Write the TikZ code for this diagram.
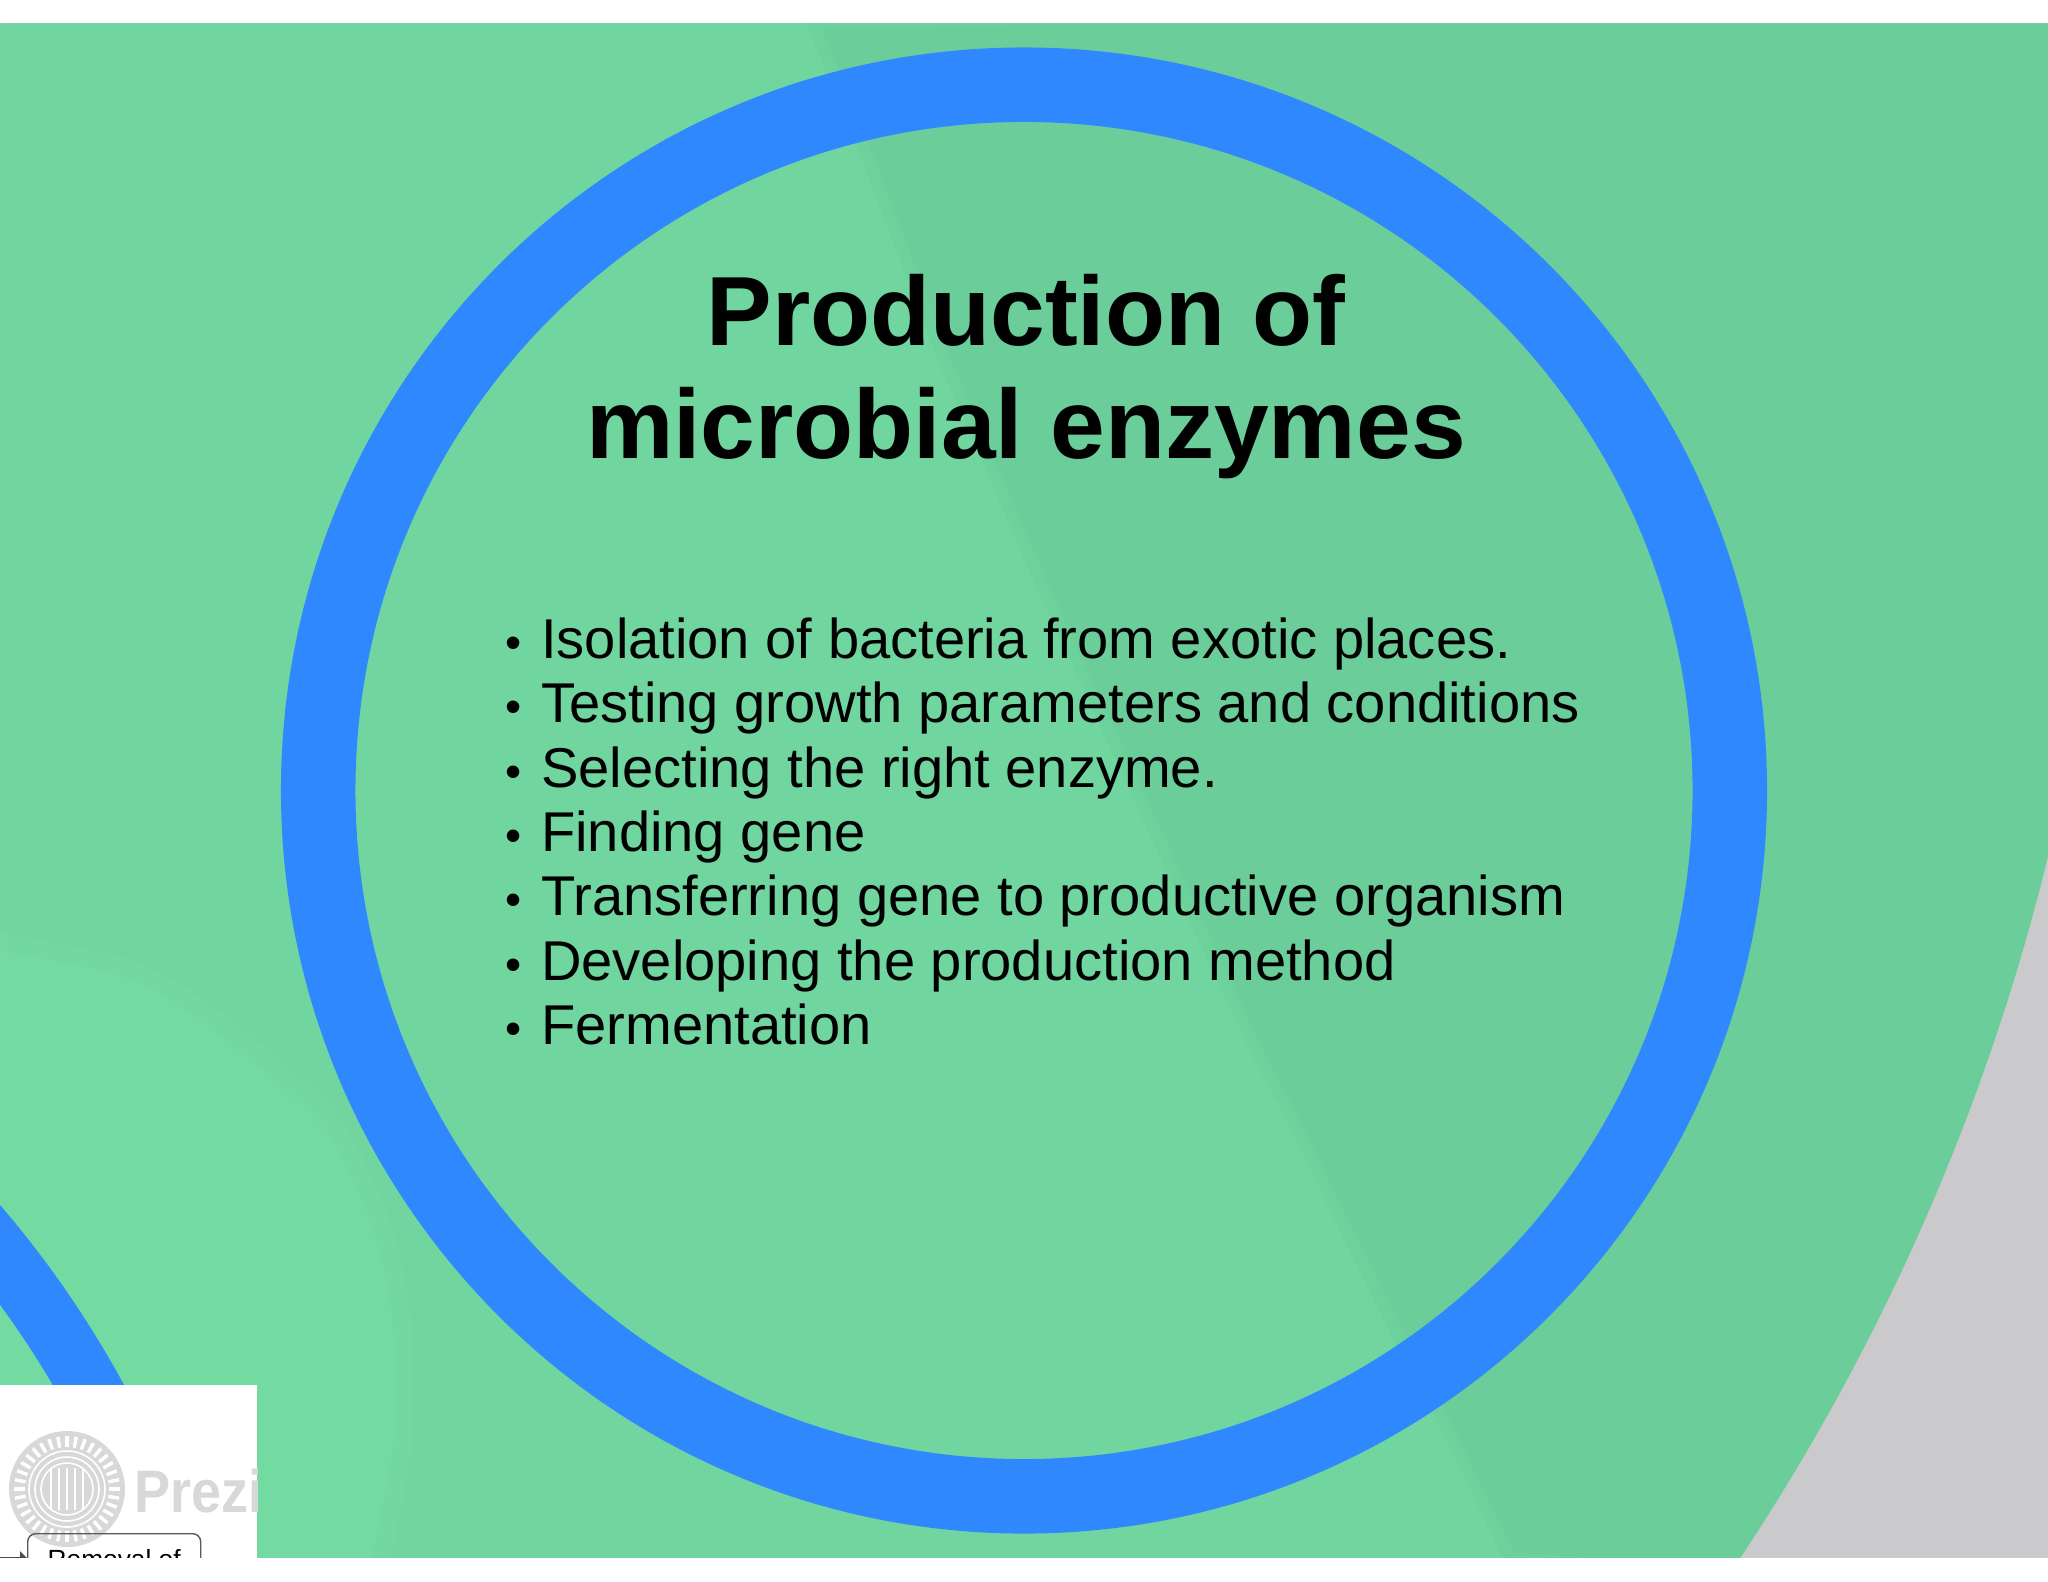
\documentclass[tikz,border=0pt]{standalone}
\usepackage{fontspec}
\setmainfont{Liberation Sans}
\usetikzlibrary{arrows}
\definecolor{midgreen}{RGB}{112,213,159}
\definecolor{darkgreen}{RGB}{107,205,153}
\definecolor{lightgreen}{RGB}{115,218,162}
\definecolor{ringblue}{RGB}{48,136,255}
\definecolor{cutgray}{RGB}{202,201,203}
\definecolor{logogray}{RGB}{216,216,218}
\tikzset{
	titletext/.style={anchor=base, inner sep=0, font=\fontsize{98.3}{113}\selectfont\bfseries},
	itemtext/.style={anchor=base west, inner sep=0, font=\fontsize{56.1}{64}\selectfont},
	itemdot/.style={anchor=base, inner sep=0, font=\fontsize{46}{50}\selectfont},
}
\begin{document}
\begin{tikzpicture}[x=1pt, y=-1pt]
	\useasboundingbox (0,0) rectangle (2048,1582);
	\begin{scope}
		\clip (0,23) rectangle (2048,1558);
		\fill[midgreen] (0,23) rectangle (2048,1558);
		\filldraw[darkgreen, draw=midgreen!50!darkgreen, line width=12] plot[smooth] coordinates {(813,23) (863,146) (897,235) (947,365) (997,480) (1047,595) (1233,1000) (1300,1134) (1393,1325) (1443,1420) (1510,1558)} -- (2100,1600) -- (2100,0) -- cycle;
		\filldraw[lightgreen, draw=midgreen!50!lightgreen, line width=18] plot[smooth] coordinates {(-40,935) (133,970) (233,1034) (333,1125) (383,1230) (403,1334) (403,1442) (377,1580)} -- (-40,1580) -- cycle;
		\fill[cutgray, even odd rule] (0,23) rectangle (2048,1600) (-121,324) circle [radius=2233];
		\draw[ringblue, line width=74.5] (1024,790.5) circle [radius=705.8];
		\begin{scope}
			\clip (0,1100) rectangle (300,1385);
			\draw[ringblue, line width=62] (-781,1875) circle [radius=998];
		\end{scope}
		% watermark corner
		\fill[white] (0,1385) rectangle (257,1558);
		\begin{scope}
			\clip (0,1385) rectangle (257,1558);
			\begin{scope}[shift={(67,1489)}]
				\fill[logogray] (0,0) circle [radius=58];
				\foreach \ang in {0,10,...,350}
					\draw[white, line width=3.4] (\ang:42) -- (\ang:53);
				\draw[white, line width=1.6] (0,0) circle [radius=38];
				\draw[white, line width=1.6] (0,0) circle [radius=32];
				\draw[white, line width=1.6] (0,0) circle [radius=26];
				\foreach \xx in {-16,-8,0,8,16}
					\draw[white, line width=2] (\xx,-21) -- (\xx,21);
			\end{scope}
			\node[anchor=base west, inner sep=0, xscale=0.9, text=logogray, font=\fontsize{60}{60}\selectfont\bfseries] (prezi) at (134,1512) {Prezi};
			\node[anchor=north west, inner sep=0, draw=black!65, line width=1.4, rounded corners=8, minimum width=173, text height=35, text depth=20, align=center, font=\fontsize{26.3}{30}\selectfont] (removal) at (27,1533) {Removal of};
			\coordinate (feed) at (0,1558);
			\draw[-triangle 90, black!70, line width=1.4] (feed) -- (feed -| removal.west);
		\end{scope}
	\end{scope}
	% page strip under the slide
	\fill[white] (0,1558) rectangle (2048,1582);
	\node[titletext] (head1) at (1026,345.6) {Production of};
	\node[titletext] (head2) at (1026,458.7) {microbial enzymes};
	\foreach \txt [count=\i] in {Isolation of bacteria from exotic places., Testing growth parameters and conditions, Selecting the right enzyme., Finding gene, Transferring gene to productive organism, Developing the production method, Fermentation} {
		\node[itemdot] (dot\i) at (514,{658.3+64.4*(\i-1)}) {•};
		\node[itemtext] (item\i) at (541,{658.3+64.4*(\i-1)}) {\txt};
	}
\end{tikzpicture}
\end{document}
